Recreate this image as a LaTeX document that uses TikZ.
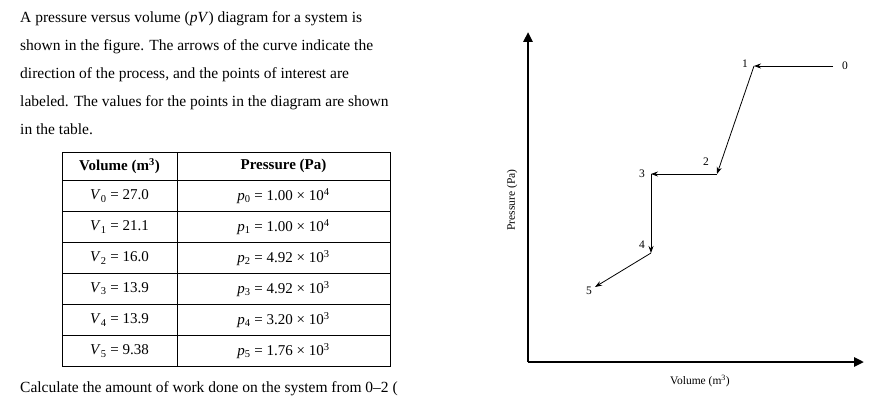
\documentclass[tikz,border=0pt]{standalone}
\usepackage{fontspec}
\setmainfont{Liberation Serif}
\usetikzlibrary{arrows.meta}
\begin{document}
\begin{tikzpicture}[x=1pt,y=-1pt,
  para/.style={anchor=base west,font=\fontsize{15.5}{28}\selectfont,align=left,inner sep=0},
  cell/.style={anchor=center,font=\fontsize{15}{18}\selectfont,inner sep=0},
  lab/.style={font=\fontsize{11.5}{13}\selectfont,inner sep=1pt},
  proc/.style={line width=0.8pt,-{Stealth[length=7pt,width=5pt]}},
  ax/.style={line width=2.6pt,-{Triangle[length=10pt,width=9pt]}}]
\useasboundingbox (0,0) rectangle (882,404);
\node[para] (p) at (20,134) {A pressure versus volume (\textit{pV}) diagram for a system is\\
shown in the figure. The arrows of the curve indicate the\\
direction of the process, and the points of interest are\\
labeled. The values for the points in the diagram are shown\\
in the table.};
% table
\draw[line width=0.8pt] (62,152) rectangle (390,366);
\draw[line width=0.6pt] (177,152) -- (177,366);
\foreach \y in {180,211,242,273,304,335} \draw[line width=0.6pt] (62,\y) -- (390,\y);
\node[cell] (h1) at (119.5,166) {\textbf{Volume (m\textsuperscript{3})}};
\node[cell] (h2) at (283.5,166) {\textbf{Pressure (Pa)}};
\node[cell] (v0) at (119.5,196) {\textit{V}\textsubscript{0} = 27.0};
\node[cell] (v1) at (119.5,227) {\textit{V}\textsubscript{1} = 21.1};
\node[cell] (v2) at (119.5,258) {\textit{V}\textsubscript{2} = 16.0};
\node[cell] (v3) at (119.5,289) {\textit{V}\textsubscript{3} = 13.9};
\node[cell] (v4) at (119.5,320) {\textit{V}\textsubscript{4} = 13.9};
\node[cell] (v5) at (119.5,351) {\textit{V}\textsubscript{5} = 9.38};
\node[cell] (q0) at (283.5,196) {\textit{p}\textsubscript{0} = 1.00 × 10\textsuperscript{4}};
\node[cell] (q1) at (283.5,227) {\textit{p}\textsubscript{1} = 1.00 × 10\textsuperscript{4}};
\node[cell] (q2) at (283.5,258) {\textit{p}\textsubscript{2} = 4.92 × 10\textsuperscript{3}};
\node[cell] (q3) at (283.5,289) {\textit{p}\textsubscript{3} = 4.92 × 10\textsuperscript{3}};
\node[cell] (q4) at (283.5,320) {\textit{p}\textsubscript{4} = 3.20 × 10\textsuperscript{3}};
\node[cell] (q5) at (283.5,351) {\textit{p}\textsubscript{5} = 1.76 × 10\textsuperscript{3}};
\node[para] (last) at (20,392) {Calculate the amount of work done on the system from 0–2 (};
% graph
\coordinate (o) at (528,362);
\coordinate (yt) at (528,32);
\coordinate (xt) at (864,362);
\draw[ax] (o) -- (yt);
\draw[ax] (o) -- (xt);
\node[lab,rotate=90] (yl) at (512,200) {Pressure (Pa)};
\node[lab] (xl) at (700,381) {Volume (m\textsuperscript{3})};
\coordinate (P0) at (833,66);
\coordinate (P1) at (754,66);
\coordinate (P2) at (717,174);
\coordinate (P3) at (651,174);
\coordinate (P4) at (651,253);
\coordinate (P5) at (595,287);
\draw[proc] (P0) -- (P1);
\draw[proc] (P1) -- (P2);
\draw[proc] (P2) -- (P3);
\draw[proc] (P3) -- (P4);
\draw[proc] (P4) -- (P5);
\node[lab] (l0) at (845,66) {0};
\node[lab] (l1) at (745,64) {1};
\node[lab] (l2) at (706,162) {2};
\node[lab] (l3) at (642,174) {3};
\node[lab] (l4) at (642,245) {4};
\node[lab] (l5) at (589,291) {5};
\end{tikzpicture}
\end{document}
